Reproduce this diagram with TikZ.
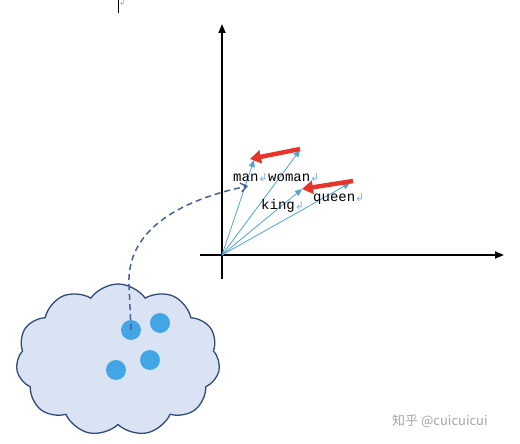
\documentclass[tikz,border=0pt]{standalone}
\usepackage{fontspec}
\setmainfont{Liberation Serif}
\newfontfamily\monof{Liberation Mono}
\newfontfamily\dejav{DejaVu Sans}
\newfontfamily\cjkf{Noto Sans CJK SC}
\usetikzlibrary{arrows.meta,shapes.symbols}
\definecolor{retblue}{HTML}{7FB2E5}
\definecolor{vecblue}{HTML}{4FA3DB}
\definecolor{dotblue}{HTML}{41A5E6}
\definecolor{cloudfill}{HTML}{DAE3F3}
\definecolor{cloudline}{HTML}{2F4B78}
\definecolor{dashblue}{HTML}{44639A}
\definecolor{redarr}{HTML}{E8352B}
\newcommand{\retmark}{{\dejav\fontsize{11}{11}\selectfont\color{retblue}↲}}
\tikzset{
  axis/.style={line width=1.8pt,-{Triangle[length=9pt,width=7pt]}},
  vec/.style={vecblue,line width=0.8pt,-{Triangle[length=7pt,width=6pt]}},
  redshift/.style={redarr,line width=4.5pt,-{Triangle[length=11pt,width=13pt]}},
  word/.style={font=\monof\fontsize{14}{14}\selectfont,anchor=base west,inner sep=0pt},
  dot/.style={circle,fill=dotblue,minimum size=20pt,inner sep=0pt},
  cloudbox/.style={cloud,cloud puffs=11,cloud puff arc=110,aspect=1.35,draw=cloudline,fill=cloudfill,line width=1.3pt,minimum width=204pt,minimum height=152pt,inner sep=0pt},
  link/.style={dashblue,line width=1.5pt,dash pattern=on 6pt off 4pt,-{Straight Barb[length=6pt,width=9pt]}}
}
\begin{document}
\begin{tikzpicture}[x=1pt,y=-1pt]
\useasboundingbox (0,0) rectangle (520,444);
% cursor at top
\draw[line width=0.8pt] (118,0) -- (118,13);
\node[anchor=west,inner sep=0pt,font=\dejav\fontsize{8}{8}\selectfont,text=retblue] (topret) at (119,3) {↲};
% axes
\coordinate (O) at (222,255);
\coordinate (ybot) at (222,279);
\coordinate (ytop) at (222,24);
\coordinate (xleft) at (200,255);
\coordinate (xright) at (504,255);
\draw[axis] (ybot) -- (ytop);
\draw[axis] (xleft) -- (xright);
% vectors
\coordinate (mantip) at (254,160);
\coordinate (womantip) at (300,150);
\coordinate (kingtip) at (302,189);
\coordinate (queentip) at (350,183);
\draw[vec] (O) -- (mantip);
\draw[vec] (O) -- (womantip);
\draw[vec] (O) -- (kingtip);
\draw[vec] (O) -- (queentip);
% labels
\node[word] (man) at (233,181) {man\retmark};
\node[word] (woman) at (268,181) {woman\retmark};
\node[word] (king) at (261,209) {king\retmark};
\node[word] (queen) at (313,201) {queen\retmark};
% red shift arrows
\coordinate (r1s) at (300,149);
\coordinate (r1e) at (250,159);
\coordinate (r2s) at (353,181);
\coordinate (r2e) at (302,189);
\draw[redshift] (r1s) -- (r1e);
\draw[redshift] (r2s) -- (r2e);
% cloud
\node[cloudbox] (cloudn) at (118,360) {};
\node[dot] (d1) at (131,330) {};
\node[dot] (d2) at (160,323) {};
\node[dot] (d3) at (150,360) {};
\node[dot] (d4) at (116,370) {};
% dashed link
\coordinate (linkend) at (248,186);
\draw[link] (d1.center) -- (129,285) .. controls (126,225) and (190,198) .. (linkend);
% watermark
\node[anchor=west,inner sep=0pt,text=black!35] (wm) at (392,421) {\cjkf\fontsize{13}{13}\selectfont 知乎 @cuicuicui};
\end{tikzpicture}
\end{document}
